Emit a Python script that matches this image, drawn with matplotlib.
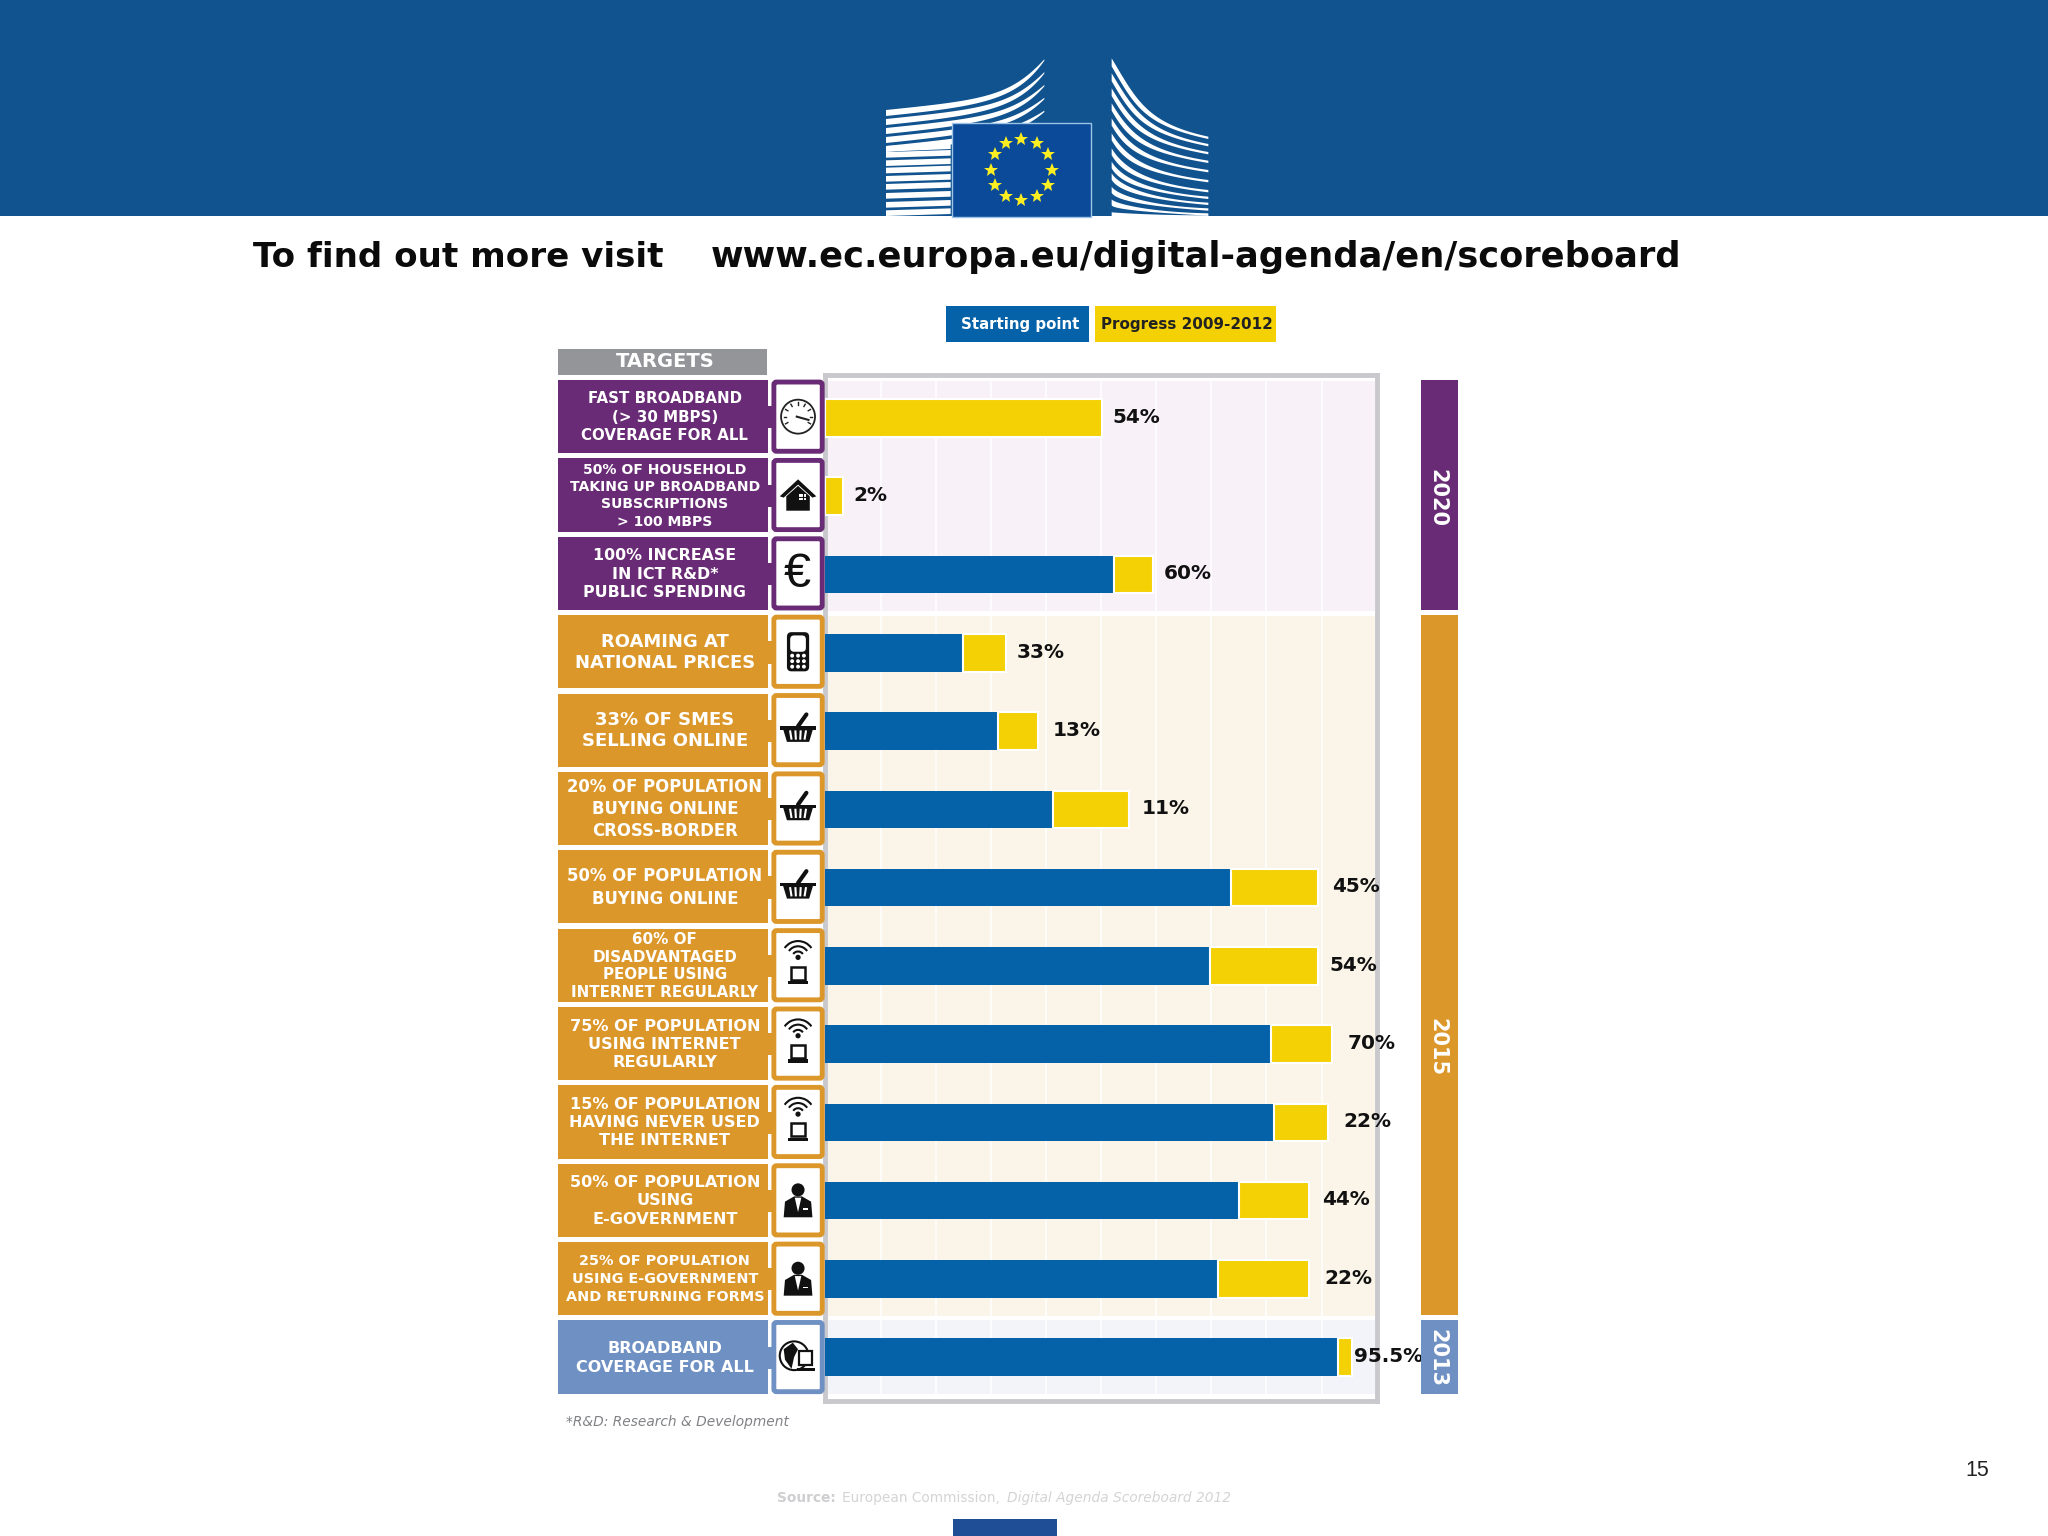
import numpy as np
import matplotlib
matplotlib.use("Agg")
import matplotlib.pyplot as plt
from matplotlib.patches import Rectangle, Circle, Polygon, FancyBboxPatch, Arc

# ---- data ----
targets = [
    "FAST BROADBAND\n(> 30 MBPS)\nCOVERAGE FOR ALL",
    "50% OF HOUSEHOLD\nTAKING UP BROADBAND\nSUBSCRIPTIONS\n> 100 MBPS",
    "100% INCREASE\nIN ICT R&D*\nPUBLIC SPENDING",
    "ROAMING AT\nNATIONAL PRICES",
    "33% OF SMES\nSELLING ONLINE",
    "20% OF POPULATION\nBUYING ONLINE\nCROSS-BORDER",
    "50% OF POPULATION\nBUYING ONLINE",
    "60% OF\nDISADVANTAGED\nPEOPLE USING\nINTERNET REGULARLY",
    "75% OF POPULATION\nUSING INTERNET\nREGULARLY",
    "15% OF POPULATION\nHAVING NEVER USED\nTHE INTERNET",
    "50% OF POPULATION\nUSING\nE-GOVERNMENT",
    "25% OF POPULATION\nUSING E-GOVERNMENT\nAND RETURNING FORMS",
    "BROADBAND\nCOVERAGE FOR ALL",
]
starting = [0, 0, 52.4, 24.9, 31.3, 41.2, 73.5, 69.7, 80.8, 81.3, 75.1, 71.3, 92.9]
progress = [50.2, 3.1, 7.1, 7.8, 7.3, 13.8, 15.8, 19.6, 11.1, 9.9, 12.6, 16.4, 2.6]
value_labels = ["54%", "2%", "60%", "33%", "13%", "11%", "45%", "54%", "70%", "22%", "44%", "22%", "95.5%"]
years = ["2020", "2015", "2013"]
year_groups = [(0, 2), (3, 11), (12, 12)]
icons = ["gauge", "house", "euro", "phone", "basket", "basket", "basket",
         "wifi", "wifi", "wifi", "person", "person", "globe"]

BLUE = "#0561a8"
YELLOW = "#f3d104"
PURPLE = "#692b75"
ORANGE = "#dc972a"
STEEL = "#6e90c3"
group_colors = [PURPLE, ORANGE, STEEL]
group_bg = ["#f8f1f8", "#faf5e8", "#f2f4f9"]

# styles per row
label_gap = [8, 8, 8, 8, 11, 10, 11, 9, 12, 12, 10, 12, 2]
label_sizes = [10.8, 10.1, 11.4, 13, 13, 11.9, 11.9, 10.9, 11.6, 11.6, 11.6, 10.4, 11.5]
label_spacing = [1.3, 1.31, 1.28, 1.2, 1.2, 1.31, 1.31, 1.22, 1.26, 1.26, 1.26, 1.35, 1.36]
year_shift = [2, 63, 0.5]

plt.rcParams["font.family"] = "DejaVu Sans"
fig = plt.figure(figsize=(20.48, 15.36), dpi=100, facecolor="white")

# ---- chart axes : x 632..1054, y 287..1073 in 1568x1176 coordinates ----
W, H = 1568.0, 1176.0
ax = fig.add_axes([632 / W, 1 - 1073 / H, (1054 - 632) / W, (1073 - 287) / H], zorder=1)
y = np.arange(len(targets))
ax.set_xlim(0, 100)
ax.set_ylim(12.566, -0.551)
for (a, b), c in zip(year_groups, group_bg):
    ax.axhspan(a - 0.47, b + 0.47, color=c, lw=0, zorder=0)
ax.axhspan(-0.551, -0.47, color="white", lw=0, zorder=0.1)
ax.axhspan(12.47, 12.566, color="white", lw=0, zorder=0.1)
ax.set_xticks(np.arange(10, 100, 10))
ax.grid(axis="x", color="white", lw=1.1, zorder=0.5)
ax.set_axisbelow(True)
ax.barh(y, starting, height=0.48, color=BLUE, zorder=3)
ax.barh(y, progress, left=starting, height=0.48, color=YELLOW, edgecolor="white", lw=1.5, zorder=3)
for i in y:
    ax.annotate(value_labels[i], (starting[i] + progress[i], i), xytext=(label_gap[i] * 0.94, 0.5),
                textcoords="offset points", ha="left", va="center", fontsize=14.4, fontweight="bold",
                color="#111111", zorder=4, annotation_clip=False)
ax.tick_params(length=0, labelbottom=False, labelleft=False)
for name, sp in ax.spines.items():
    sp.set_color("#c9c9cd")
    sp.set_linewidth(3.5)
ax.spines["right"].set_linestyle((0, (5, 1)))

# ---- overlay in reference coordinates ----
ov = fig.add_axes([0, 0, 1, 1], zorder=2)
ov.set_xlim(0, W)
ov.set_ylim(H, 0)
ov.axis("off")
ov.patch.set_alpha(0)


def rect(x0, y0, x1, y1, color, z=1):
    ov.add_patch(Rectangle((x0, y0), x1 - x0, y1 - y0, facecolor=color, edgecolor="none", zorder=z))


def bez(p0, p1, p2, p3):
    t = np.linspace(0, 1, 40)[:, None]
    p0, p1, p2, p3 = [np.array(p, dtype=float) for p in (p0, p1, p2, p3)]
    return (1 - t) ** 3 * p0 + 3 * (1 - t) ** 2 * t * p1 + 3 * (1 - t) * t ** 2 * p2 + t ** 3 * p3


def logo_stripe(top, bottom):
    # the logo was measured on a 3x crop taken at (860, 40) of the full size image
    pts = np.vstack([top, bottom[::-1]])
    pts = np.column_stack([(860 + pts[:, 0] / 3) * W / 2048, (40 + pts[:, 1] / 3) * W / 2048])
    ov.add_patch(Polygon(pts, fc="white", ec="none", zorder=2))


# header band and logo
rect(0, 0, W, 165, "#11538f")
for k in range(5):
    d = 27 * k
    tip = 58 + 38.5 * k
    logo_stripe(bez((78, 210 + d), (370, 180 + d), (450, 170 + d), (553, tip)),
                bez((78, 228 + d), (370, 198 + d), (470, 180 + d), (553, tip + 4)))
for left in [345, 370, 392, 417, 441, 468, 495, 520]:
    logo_stripe(np.array([(78.0, left - 9), (272.0, left - 15)]), np.array([(78.0, left + 8), (272.0, left + 2)]))
logo_stripe(np.array([(78.0, 318), (272.0, 310)]), np.array([(78.0, 335), (272.0, 327)]))
right_left = [55, 100, 145, 190, 235, 280, 325, 365, 400, 440, 478, 517]
right_end = [290, 312, 336, 362, 390, 420, 450, 470, 488, 505, 520, 526]
for k, (lt, rt) in enumerate(zip(right_left, right_end)):
    f = max(0.0, 1 - k / 11)
    thick = 24 - k * 0.6
    logo_stripe(bez((755, lt), (755 + 75 * f, lt + 125 * f), (860, rt - 40 * f), (1045, rt)),
                bez((755, lt + thick), (755 + 72 * f, lt + thick + 125 * f), (855, rt - 34 * f), (1045, rt + 7)))
ov.add_patch(Rectangle((729, 94), 106, 72, facecolor="#0b4a99", edgecolor="#9dc3e6", lw=1, zorder=3))
for ang in np.arange(0, 360, 30):
    ov.plot(782 + 23.5 * np.sin(np.radians(ang)), 130 - 23.5 * np.cos(np.radians(ang)), marker="*",
            color="#fdee21", ms=10, mew=0, zorder=4)

ov.text(194, 197, "To find out more visit", fontsize=24.6, fontweight="bold", color="#0b0b0b", va="center")
ov.text(544, 197, "www.ec.europa.eu/digital-agenda/en/scoreboard", fontsize=25.35, fontweight="bold",
        color="#0b0b0b", va="center")

# legend and header of the table
rect(724, 234, 834, 262, BLUE)
rect(838, 234, 977, 262, YELLOW)
ov.text(781, 248.5, "Starting point", fontsize=10.8, fontweight="bold", color="white", ha="center", va="center", zorder=3)
ov.text(909, 248.5, "Progress 2009-2012", fontsize=10.9, fontweight="bold", color="#222222", ha="center", va="center", zorder=3)
rect(427, 267, 587, 287, "#939598")
ov.text(509, 277, "TARGETS", fontsize=14, fontweight="bold", color="white", ha="center", va="center", zorder=3)


def draw_icon(kind, cx, cy):
    k = "#111111"
    if kind == "gauge":
        ov.add_patch(Circle((cx, cy), 13, fc="white", ec="#222222", lw=1.3, zorder=6))
        for a in np.arange(-120, 130, 30):
            r = np.radians(a)
            ov.plot([cx + 9 * np.sin(r), cx + 11 * np.sin(r)], [cy - 9 * np.cos(r), cy - 11 * np.cos(r)],
                    color="#222222", lw=1, zorder=7)
        ov.plot([cx - 1, cx + 8], [cy, cy + 2.5], color="#222222", lw=1.5, zorder=7)
    elif kind == "house":
        ov.add_patch(Polygon([(cx - 14, cy + 1), (cx, cy - 12), (cx + 14, cy + 1), (cx + 11, cy + 2), (cx, cy - 8), (cx - 11, cy + 2)],
                             fc=k, ec="none", zorder=6))
        ov.add_patch(Polygon([(cx - 9, cy + 1), (cx, cy - 7), (cx + 9, cy + 1), (cx + 9, cy + 12), (cx - 9, cy + 12)],
                             fc=k, ec="none", zorder=6))
        ov.add_patch(Rectangle((cx + 1, cy - 1), 5, 5, fc="white", ec="none", zorder=7))
        ov.plot([cx + 3.5, cx + 3.5], [cy - 1, cy + 4], color=k, lw=0.8, zorder=8)
        ov.plot([cx + 1, cx + 6], [cy + 1.5, cy + 1.5], color=k, lw=0.8, zorder=8)
    elif kind == "euro":
        ov.text(cx - 1, cy + 1, "€", fontsize=35, family="Liberation Sans", color=k, ha="center", va="center", zorder=6)
    elif kind == "phone":
        ov.add_patch(FancyBboxPatch((cx - 8.5, cy - 15), 17, 30, boxstyle="round,pad=0,rounding_size=3.5", fc=k, ec="none", zorder=6))
        ov.add_patch(FancyBboxPatch((cx - 6, cy - 12.5), 12, 12.5, boxstyle="round,pad=0,rounding_size=3", fc="white", ec="none", zorder=7))
        for i in range(3):
            for j in range(3):
                ov.add_patch(Circle((cx - 4.5 + 4.5 * i, cy + 3 + 4.2 * j), 1.5, fc="white", ec="none", zorder=7))
    elif kind == "basket":
        ov.add_patch(Rectangle((cx - 14, cy - 3), 28, 2.6, fc=k, ec="none", zorder=6))
        ov.add_patch(Polygon([(cx - 11.5, cy - 1), (cx + 11.5, cy - 1), (cx + 8.5, cy + 9), (cx - 8.5, cy + 9)], fc=k, ec="none", zorder=6))
        for dx in (-6, -2, 2, 6):
            ov.plot([cx + dx, cx + dx * 0.85], [cy + 1, cy + 6.5], color="white", lw=1.5, zorder=7)
        ov.plot([cx, cx + 6.4], [cy - 3, cy - 12], color=k, lw=3, solid_capstyle="round", zorder=7)
    elif kind == "wifi":
        for d in (9, 17, 25):
            ov.add_patch(Arc((cx, cy - 6), d, d, theta1=215, theta2=325, ec=k, lw=1.5, zorder=6))
        ov.add_patch(Circle((cx, cy - 6), 2, fc=k, ec="none", zorder=6))
        ov.add_patch(Rectangle((cx - 5.5, cy + 1), 11, 10, fc="white", ec=k, lw=1.8, zorder=6))
        ov.add_patch(Rectangle((cx - 8, cy + 12), 16, 2.6, fc=k, ec="none", zorder=6))
    elif kind == "person":
        ov.add_patch(Circle((cx, cy - 8), 5, fc=k, ec="none", zorder=6))
        ov.add_patch(Polygon([(cx - 11, cy + 13), (cx - 10, cy + 1), (cx - 3, cy - 3), (cx + 3, cy - 3), (cx + 10, cy + 1), (cx + 11, cy + 13)],
                             fc=k, ec="none", zorder=6))
        ov.add_patch(Polygon([(cx - 2.5, cy - 2), (cx + 2.5, cy - 2), (cx, cy + 9)], fc="white", ec="none", zorder=7))
        ov.add_patch(Rectangle((cx + 4, cy + 6), 4, 1.5, fc="white", ec="none", zorder=7))
    elif kind == "globe":
        ov.add_patch(Circle((cx - 3, cy - 1), 11, fc="white", ec=k, lw=1.5, zorder=6))
        ov.add_patch(Polygon([(cx - 11, cy - 6), (cx - 4, cy - 11), (cx, cy - 6), (cx - 3, cy), (cx - 5, cy + 9), (cx - 10, cy + 2)], fc=k, ec="none", zorder=6))
        ov.add_patch(Rectangle((cx + 1, cy - 5), 10, 11, fc="white", ec=k, lw=1.6, zorder=7))
        ov.add_patch(Rectangle((cx - 1, cy + 8), 14, 3, fc=k, ec="none", zorder=7))


# target rows
row_top = 291.0
row_step = 60.0
for gi, (a, b) in enumerate(year_groups):
    col = group_colors[gi]
    for i in range(a, b + 1):
        y0 = row_top + row_step * i
        y1 = y0 + 56
        rect(427, y0, 588, y1, col)
        rect(587, y0 + 20, 593, y0 + 37, col)
        ov.text(509, (y0 + y1) / 2 + 0.5, targets[i], fontsize=label_sizes[i], fontweight="bold", color="white",
                ha="center", va="center", linespacing=label_spacing[i], zorder=3)
        ov.add_patch(FancyBboxPatch((592.5, y0 + 1.5), 37, 53, boxstyle="round,pad=0,rounding_size=2",
                                    fc="white", ec=col, lw=3.5, zorder=4))
        draw_icon(icons[i], 611, y0 + 28)
    # year bar on the right
    ya = row_top + row_step * a
    yb = row_top + row_step * b + 56
    rect(1088, ya, 1116, yb, col)
    ov.text(1100.5, (ya + yb) / 2 + year_shift[gi], years[gi], rotation=270, fontsize=15, fontweight="bold",
            color="white", ha="center", va="center", zorder=3)

ov.text(433, 1088.5, "*R&D: Research & Development", fontsize=9.9, style="italic", color="#808285", va="center")
ov.text(595, 1147, "Source:", fontsize=9.9, fontweight="bold", color="#cfcfd2", va="center")
ov.text(645, 1147, "European Commission,", fontsize=9.9, color="#d4d4d6", va="center")
ov.text(771, 1147, "Digital Agenda Scoreboard 2012", fontsize=9.9, style="italic", color="#d4d4d6", va="center")
rect(730, 1163, 809, 1176, "#1f4e96")
ov.text(1514, 1126, "15", fontsize=15.5, family="Liberation Sans", color="#222222", ha="center", va="center")

fig.savefig("out.png", dpi=100, facecolor="white")
